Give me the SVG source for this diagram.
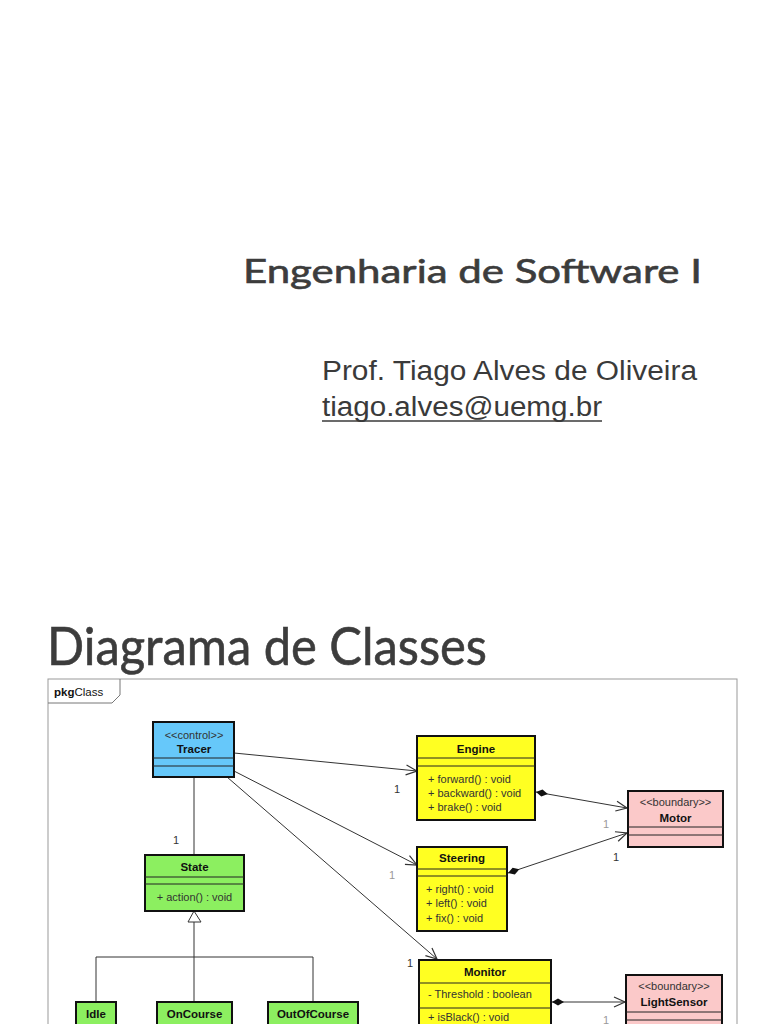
<svg xmlns="http://www.w3.org/2000/svg" width="768" height="1024" viewBox="0 0 768 1024">
<style>
.title{font-family:Lato,"DejaVu Sans",sans-serif;fill:#3c3c3c;stroke:#3c3c3c;stroke-width:0.6}
.sub{font-family:"Liberation Sans",Arial,sans-serif;fill:#3a3a3a;font-size:27px}
.box{stroke:#111;stroke-width:2}
.div{stroke:#222;stroke-width:1}
.nm{font-family:"Liberation Sans",Arial,sans-serif;font-size:11.5px;font-weight:bold;fill:#111;text-anchor:middle}
.st{font-family:"Liberation Sans",Arial,sans-serif;font-size:11px;fill:#333;text-anchor:middle}
.mt{font-family:"Liberation Sans",Arial,sans-serif;font-size:11px;fill:#333}
.lbl{font-family:"Liberation Sans",Arial,sans-serif;font-size:11px;fill:#333}
.lbl2{font-family:"Liberation Sans",Arial,sans-serif;font-size:11px;fill:#999}
.con{stroke:#333;stroke-width:1;fill:none}
.blue{fill:#66c8fa}.yel{fill:#ffff22}.grn{fill:#8cef60}.pink{fill:#fbc9c9}
</style>
<defs>
<marker id="open" markerUnits="userSpaceOnUse" markerWidth="14" markerHeight="14" refX="12" refY="6" orient="auto">
<path d="M1,1 L12,6 L1,11" fill="none" stroke="#333" stroke-width="1.2"/>
</marker>
<marker id="diamond" markerUnits="userSpaceOnUse" markerWidth="14" markerHeight="10" refX="0" refY="4" orient="auto">
<path d="M0,4 L6,0.5 L12,4 L6,7.5 Z" fill="#111"/>
</marker>
</defs>
<rect width="768" height="1024" fill="#fff"/>
<text class="title" x="243" y="283" font-size="33" textLength="459" lengthAdjust="spacingAndGlyphs">Engenharia de Software I</text>
<text class="sub" x="322" y="380" textLength="375" lengthAdjust="spacingAndGlyphs">Prof. Tiago Alves de Oliveira</text>
<text class="sub" x="322" y="416" textLength="280" lengthAdjust="spacingAndGlyphs">tiago.alves@uemg.br</text>
<line x1="322" y1="421" x2="602" y2="421" stroke="#3a3a3a" stroke-width="1.5"/>
<text class="title" x="47" y="665" font-size="53" textLength="440" lengthAdjust="spacingAndGlyphs">Diagrama de Classes</text>
<g id="frame">
<rect x="48" y="679" width="689" height="360" fill="none" stroke="#999" stroke-width="1"/>
<path d="M48,703 L112,703 L120,695 L120,679" fill="none" stroke="#777" stroke-width="1"/>
<text x="54" y="696" font-family="Liberation Sans,Arial,sans-serif" font-size="11.5" fill="#111"><tspan font-weight="bold">pkg</tspan>Class</text>
</g>
<g id="connectors">
<line class="con" x1="194" y1="777" x2="194" y2="855"/>
<line class="con" x1="234" y1="753" x2="417" y2="771" marker-end="url(#open)"/>
<line class="con" x1="234" y1="771" x2="417" y2="865" marker-end="url(#open)"/>
<line class="con" x1="227" y1="777" x2="437" y2="959" marker-end="url(#open)"/>
<line class="con" x1="536" y1="792" x2="627" y2="808" marker-start="url(#diamond)" marker-end="url(#open)"/>
<line class="con" x1="508" y1="873" x2="627" y2="833" marker-start="url(#diamond)" marker-end="url(#open)"/>
<line class="con" x1="552" y1="1002" x2="625" y2="1002" marker-start="url(#diamond)" marker-end="url(#open)"/>
<polyline class="con" points="96,1002 96,957 313,957 313,1002"/>
<line class="con" x1="194" y1="922" x2="194" y2="1002"/>
<polygon points="194,911 188,922 201,922" fill="#fff" stroke="#333" stroke-width="1"/>
<text class="lbl" x="173" y="844">1</text>
<text class="lbl" x="394" y="793">1</text>
<text class="lbl2" x="389" y="879">1</text>
<text class="lbl" x="407" y="967">1</text>
<text class="lbl2" x="603" y="828">1</text>
<text class="lbl" x="613" y="861">1</text>
<text class="lbl2" x="603" y="1024">1</text>
</g>
<g id="Tracer">
<rect class="box blue" x="153" y="722" width="81" height="55"/>
<line class="div" x1="153" y1="758" x2="234" y2="758"/>
<line class="div" x1="153" y1="766" x2="234" y2="766"/>
<text class="st" x="194" y="739">&lt;&lt;control&gt;&gt;</text>
<text class="nm" x="194" y="753">Tracer</text>
</g>
<g id="Engine">
<rect class="box yel" x="417" y="736" width="118" height="84"/>
<line class="div" x1="417" y1="758" x2="535" y2="758"/>
<line class="div" x1="417" y1="766" x2="535" y2="766"/>
<text class="nm" x="476" y="753">Engine</text>
<text class="mt" x="428" y="783">+ forward() : void</text>
<text class="mt" x="428" y="797">+ backward() : void</text>
<text class="mt" x="428" y="811">+ brake() : void</text>
</g>
<g id="Motor">
<rect class="box pink" x="628" y="791" width="95" height="56"/>
<line class="div" x1="628" y1="827" x2="723" y2="827"/>
<line class="div" x1="628" y1="835" x2="723" y2="835"/>
<text class="st" x="675.5" y="806">&lt;&lt;boundary&gt;&gt;</text>
<text class="nm" x="675.5" y="822">Motor</text>
</g>
<g id="Steering">
<rect class="box yel" x="417" y="847" width="90" height="84"/>
<line class="div" x1="417" y1="869" x2="507" y2="869"/>
<line class="div" x1="417" y1="876" x2="507" y2="876"/>
<text class="nm" x="462" y="862">Steering</text>
<text class="mt" x="426" y="893">+ right() : void</text>
<text class="mt" x="426" y="907">+ left() : void</text>
<text class="mt" x="426" y="922">+ fix() : void</text>
</g>
<g id="Monitor">
<rect class="box yel" x="419" y="960" width="132" height="80"/>
<line class="div" x1="419" y1="983" x2="551" y2="983"/>
<line class="div" x1="419" y1="1008" x2="551" y2="1008"/>
<text class="nm" x="485" y="976">Monitor</text>
<text class="mt" x="428" y="998">- Threshold : boolean</text>
<text class="mt" x="428" y="1021">+ isBlack() : void</text>
</g>
<g id="LightSensor">
<rect class="box pink" x="626" y="975" width="96" height="60"/>
<line class="div" x1="626" y1="1012" x2="722" y2="1012"/>
<line class="div" x1="626" y1="1020" x2="722" y2="1020"/>
<text class="st" x="674" y="990">&lt;&lt;boundary&gt;&gt;</text>
<text class="nm" x="674" y="1006">LightSensor</text>
</g>
<g id="State">
<rect class="box grn" x="145" y="855" width="99" height="56"/>
<line class="div" x1="145" y1="877" x2="244" y2="877"/>
<line class="div" x1="145" y1="884" x2="244" y2="884"/>
<text class="nm" x="194.5" y="871">State</text>
<text class="st" x="194.5" y="901">+ action() : void</text>
</g>
<g id="Idle">
<rect class="box grn" x="76" y="1002" width="40" height="40"/>
<text class="nm" x="96" y="1018">Idle</text>
</g>
<g id="OnCourse">
<rect class="box grn" x="157" y="1002" width="75" height="40"/>
<text class="nm" x="194.5" y="1018">OnCourse</text>
</g>
<g id="OutOfCourse">
<rect class="box grn" x="268" y="1002" width="90" height="40"/>
<text class="nm" x="313" y="1018">OutOfCourse</text>
</g>
</svg>
